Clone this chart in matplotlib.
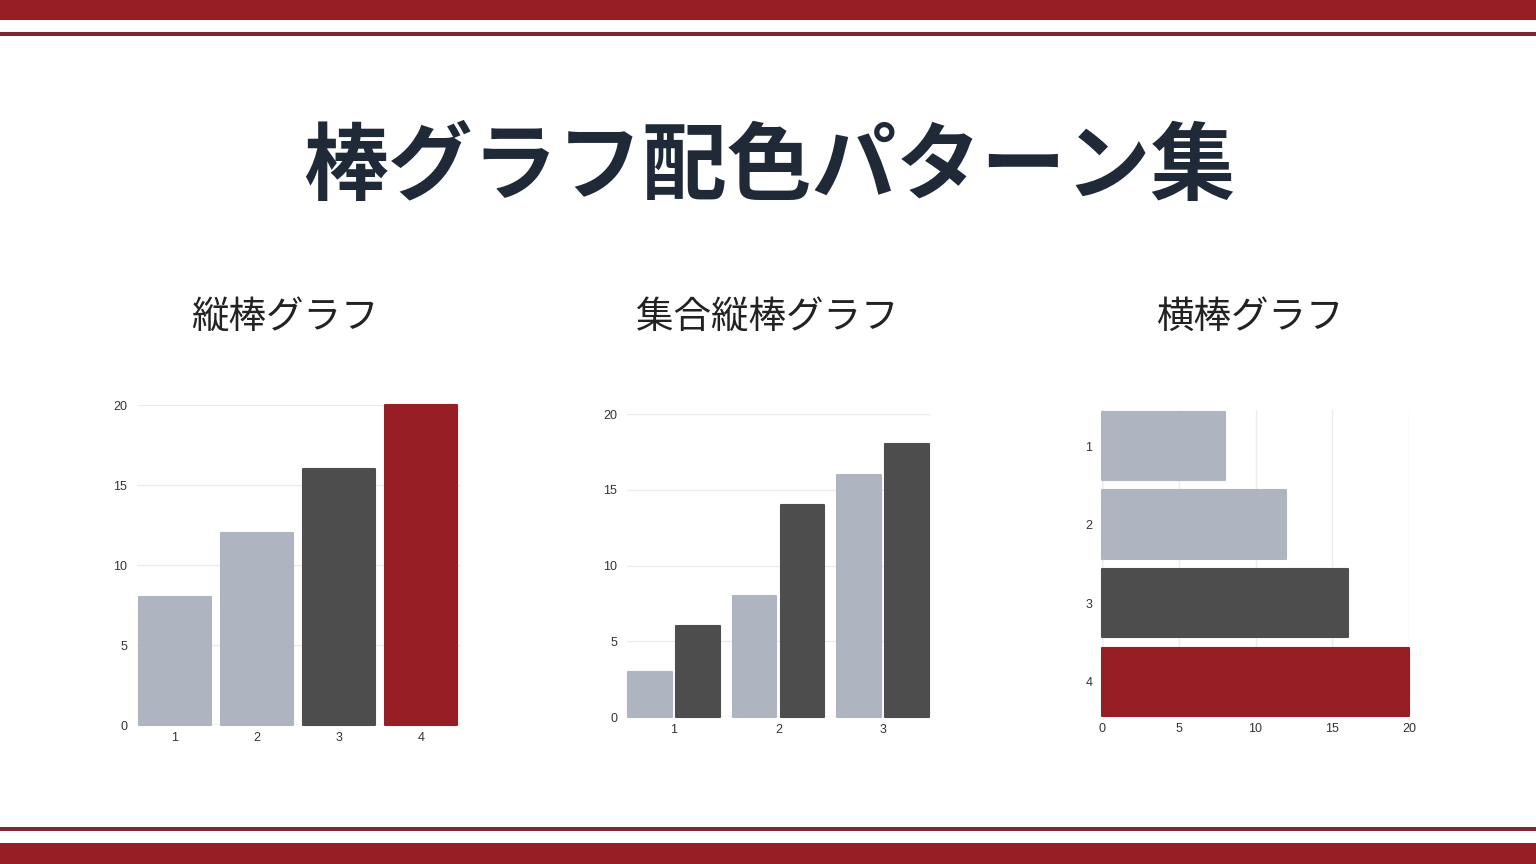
import numpy as np
import matplotlib.pyplot as plt
from matplotlib.patches import Rectangle

plt.rcParams['font.family'] = ['Noto Sans CJK JP', 'DejaVu Sans']

# data
title = "棒グラフ配色パターン集"
sub_titles = ["縦棒グラフ", "集合縦棒グラフ", "横棒グラフ"]

cats = [1, 2, 3, 4]
vals = [8, 12, 16, 20]

groups = [1, 2, 3]
series_a = [3, 8, 16]
series_b = [6, 14, 18]

light = "#afb5c0"
dark = "#4d4d4d"
red = "#981e25"
bar_colors = [light, light, dark, red]
grid_col = "#ececec"
tick_col = "#333333"

W, H = 1536, 864
fig = plt.figure(figsize=(W/100, H/100), dpi=100)
fig.patch.set_facecolor("white")

# red bands top and bottom
def band(y0, y1, col):
    fig.patches.append(Rectangle((0, 1 - y1/H), 1, (y1 - y0)/H, transform=fig.transFigure,
                                 facecolor=col, edgecolor="none"))
band(0, 20, red)
band(32, 36, "#7e2833")
band(827, 831, "#7e2833")
band(843, 864, red)

fig.text(769/W, 1 - 168/H, title, ha="center", va="center", fontsize=61,
         fontweight="bold", color="#1f2937")
for cx, t in zip([285, 767, 1251], sub_titles):
    fig.text(cx/W, 1 - 317/H, t, ha="center", va="center", fontsize=27,
             fontweight="normal", color="#222222")

def rect(l, t, r, b):
    return [l/W, 1 - b/H, (r - l)/W, (b - t)/H]

def style(ax):
    for s in ax.spines.values():
        s.set_visible(False)
    ax.tick_params(length=0, labelsize=9, labelcolor=tick_col)
    ax.tick_params(axis="y", pad=7)
    ax.tick_params(axis="x", pad=5)
    for lab in ax.get_xticklabels() + ax.get_yticklabels():
        lab.set_family("Liberation Sans")
    ax.set_axisbelow(True)

# chart 1: vertical bars
ax1 = fig.add_axes(rect(137, 405, 460, 725))
b = ax1.bar(cats, vals, width=0.87, color=bar_colors, edgecolor=bar_colors,
            linewidth=1.5, joinstyle="round")
for p in b:
    p.set_clip_on(False)
ax1.set_xlim(0.537, 4.476)
ax1.set_ylim(0, 20)
ax1.set_xticks(cats)
ax1.set_yticks([0, 5, 10, 15, 20])
ax1.yaxis.grid(True, color=grid_col, linewidth=1)
ax1.axhline(0, color="#dddddd", linewidth=1, zorder=0)
style(ax1)

# chart 2: grouped bars
ax2 = fig.add_axes(rect(627, 414, 930, 717))
x = np.array(groups)
ba = ax2.bar(x - 0.23, series_a, width=0.42, color=light, edgecolor=light,
             linewidth=1.5, joinstyle="round")
bb = ax2.bar(x + 0.23, series_b, width=0.42, color=dark, edgecolor=dark,
             linewidth=1.5, joinstyle="round")
for p in list(ba) + list(bb):
    p.set_clip_on(False)
ax2.set_xlim(0.55, 3.45)
ax2.set_ylim(0, 20)
ax2.set_xticks(groups)
ax2.set_yticks([0, 5, 10, 15, 20])
ax2.yaxis.grid(True, color=grid_col, linewidth=1)
ax2.axhline(0, color="#dddddd", linewidth=1, zorder=0)
style(ax2)

# chart 3: horizontal bars
ax3 = fig.add_axes(rect(1102, 410, 1409, 717))
bh = ax3.barh(cats, vals, height=0.87, color=bar_colors, edgecolor=bar_colors,
              linewidth=1.5, joinstyle="round")
for p in bh:
    p.set_clip_on(False)
ax3.set_xlim(0, 20)
ax3.set_ylim(4.45, 0.54)
ax3.set_yticks(cats)
ax3.set_xticks([0, 5, 10, 15, 20])
ax3.xaxis.grid(True, color=grid_col, linewidth=1)
ax3.axvline(0, color="#dddddd", linewidth=1, zorder=0)
style(ax3)
ax3.tick_params(axis="x", pad=4)

fig.savefig("out.png", dpi=100)
